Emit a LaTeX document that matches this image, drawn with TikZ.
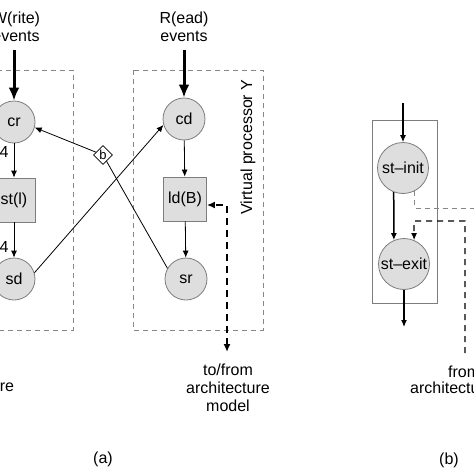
\documentclass[tikz,border=0pt]{standalone}
\usepackage{fontspec}
\setmainfont{Liberation Sans}
\usetikzlibrary{arrows.meta,shapes.geometric}
\definecolor{circfill}{RGB}{222,222,222}
\definecolor{circline}{RGB}{125,125,125}
\definecolor{dashgray}{RGB}{135,135,135}
\begin{document}
\begin{tikzpicture}[x=1pt,y=-1pt,
  every node/.style={font=\fontsize{16}{18}\selectfont},
  state/.style={circle,draw=circline,fill=circfill,line width=0.8pt,minimum size=42pt,inner sep=0pt},
  bigstate/.style={state,minimum size=51pt},
  opbox/.style={rectangle,draw=circline,fill=circfill,line width=0.8pt,minimum width=43pt,minimum height=44pt,inner sep=0pt},
  arr/.style={-{Latex[length=7pt,width=6pt]},line width=0.8pt},
  bigarr/.style={-{Latex[length=13pt,width=11pt]},line width=3pt},
  vpbox/.style={draw=dashgray,dash pattern=on 5pt off 4pt,line width=0.9pt},
  archline/.style={{Latex[length=8pt,width=7pt]}-{Latex[length=8pt,width=7pt]},line width=1.6pt,dash pattern=on 7pt off 5pt},
  plain/.style={inner sep=0pt}
]
\useasboundingbox (0,0) rectangle (474,474);
\clip (0,0) rectangle (474,474);

% dashed virtual processor boxes
\draw[vpbox] (-20,70) rectangle (73,330);
\draw[vpbox] (133,70) rectangle (263,330);
\node[rotate=90] (vpy) at (248,147) {Virtual processor Y};

% top labels
\node[align=center] (wlab) at (16,27) {W(rite)\\events};
\node[align=center] (rlab) at (184,27) {R(ead)\\events};
\coordinate (wtop) at (14,50);
\coordinate (rtop) at (184,50);

% left column
\node[state] (cr) at (14,122) {cr};
\node[opbox] (stl) at (14,200) {st(l)};
\node[state] (sd) at (14,279) {sd};
\node (four1) at (4,152) {4};
\node (four2) at (4,247) {4};

% right column
\node[state] (cd) at (184,119) {cd};
\node[opbox] (ldb) at (185,199) {ld(B)};
\node[state] (sr) at (186,279) {sr};

% diamond
\node[diamond,draw,fill=white,line width=0.7pt,minimum size=19pt,inner sep=0pt,font=\fontsize{13}{14}\selectfont] (b) at (103,155) {b};

\draw[bigarr] (wtop) -- (cr.north);
\draw[bigarr] (rtop) -- (cd.north);
\draw[arr] (cr) -- (stl);
\draw[arr] (stl) -- (sd);
\draw[arr] (cd) -- (ldb);
\draw[arr] (ldb) -- (sr);
\draw[line width=0.8pt] (sr.150) -- (b);
\draw[arr] (b) -- (cr.-15);
\draw[arr] (sd.17) -- (cd.196);

% architecture link (a)
\coordinate (arch) at (227,352);
\draw[archline] (arch) |- ([yshift=-6pt]ldb.east);
\node[align=center] (archlab) at (228,388) {to/from\\architecture\\model};
\node (re) at (7,387) {re};
\node (alab) at (103,459) {(a)};

% part (b)
\draw[draw=circline,line width=1pt] (372,120) rectangle (437,303);
\node[bigstate] (sti) at (403,168) {st\textendash init};
\node[bigstate] (ste) at (404,264) {st\textendash exit};
\coordinate (btop) at (403,103);
\coordinate (bbot) at (404,327);
\draw[arr,line width=1.1pt] (btop) -- (sti.north);
\draw[arr,line width=1.5pt] (sti.249) -- (ste.113);
\draw[arr,line width=1.1pt] (ste.south) -- (bbot);
\coordinate (thinend) at (480,208);
\draw[draw=dashgray,line width=0.8pt,dash pattern=on 5pt off 4pt] (sti.-64) |- (thinend);
\coordinate (fromarch) at (465,353);
\coordinate (bend) at (414,221);
\draw[-{Latex[length=7pt,width=6pt]},line width=1.3pt,dash pattern=on 6pt off 5pt] (fromarch) |- (bend) -- (ste.67);
\node[plain,anchor=west] (fromlab) at (448,372) {from};
\node[plain,anchor=west] (archlab2) at (410,388) {architecture};
\node (blab) at (449,460) {(b)};
\end{tikzpicture}
\end{document}
